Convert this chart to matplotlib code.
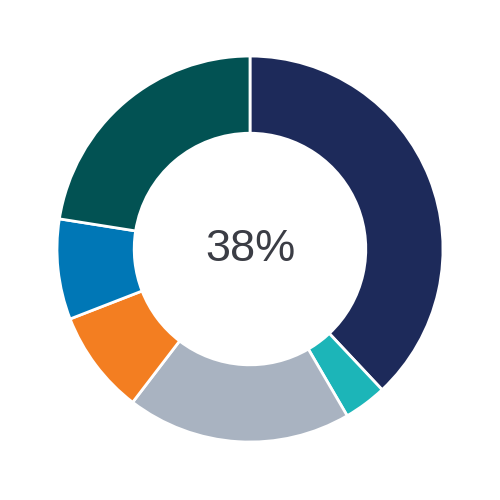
import matplotlib.pyplot as plt

# segment shares, clockwise from 12 o'clock
labels = ["A", "B", "C", "D", "E", "F"]
values = [38, 3.6, 18.8, 8.7, 8.4, 22.5]
colors = ["#1d2a5a", "#1cb5b8", "#a9b3c1", "#f37e21", "#0077b6", "#025253"]
center_text = "38%"

fig = plt.figure(figsize=(5, 5), dpi=100)
ax = fig.add_axes([0, 0, 1, 1])

ax.pie(values, colors=colors, startangle=90, counterclock=False,
       radius=1.0, wedgeprops=dict(width=0.4, edgecolor="white", linewidth=2))

ax.text(0, 0.0, center_text, ha="center", va="center", fontsize=32.5,
        color="#3b3d45", family="Liberation Sans")

lim = 250 / 193
ax.set_xlim(-lim, lim)
ax.set_ylim(-lim - 0.005, lim - 0.005)
ax.set_aspect("equal")
ax.axis("off")

plt.savefig("out.png", dpi=100)
